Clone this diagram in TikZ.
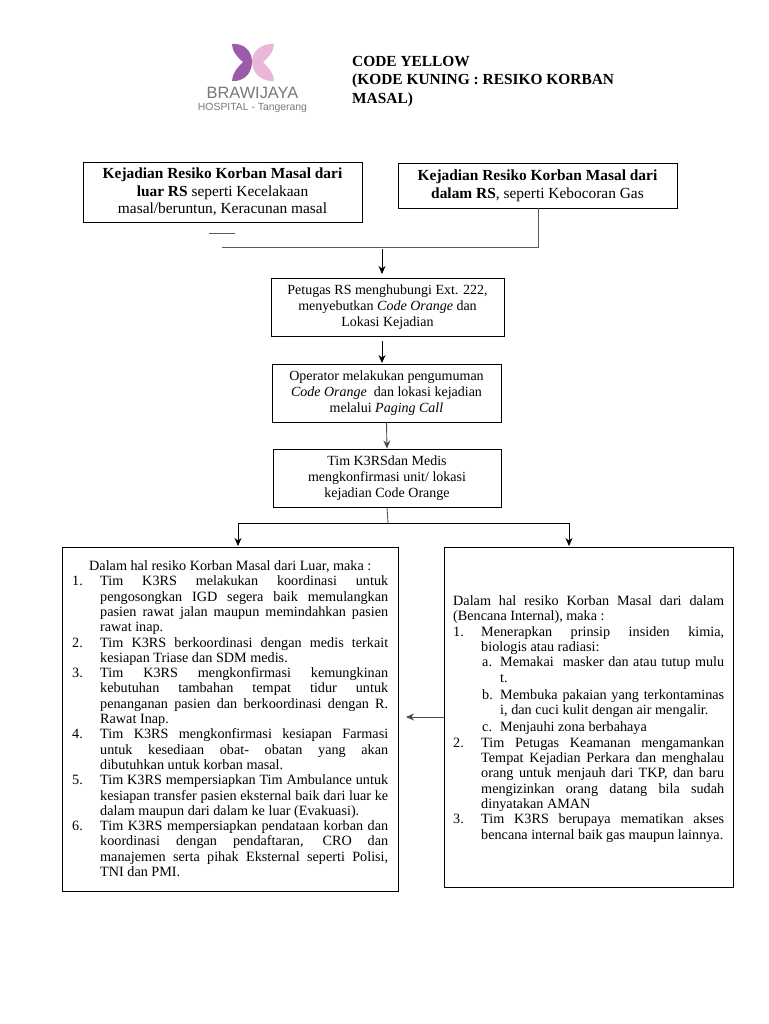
\documentclass[tikz,border=0pt]{standalone}
\usepackage{fontspec}
\setmainfont{Liberation Serif}
\setsansfont{Liberation Sans}
\usetikzlibrary{
    arrows.meta,
    positioning
}
\definecolor{logopurple}{HTML}{9B5BA8}
\definecolor{logopink}{HTML}{EBB7D6}
\definecolor{logogray}{HTML}{77787B}
\newcommand{\nohyphens}{\hyphenpenalty=10000 \exhyphenpenalty=10000 \relax}
\newcommand{\numitem}[3][28pt]{%
    \par\noindent\hangindent=#1\hangafter=1%
    \makebox[#1][l]{#2}#3\par%
}
\newcommand{\subpoint}[2]{%
    \par\noindent\leftskip=29pt\hangindent=18pt\hangafter=1%
    \makebox[18pt][l]{#1}#2\par\leftskip=0pt%
}

\begin{document}
\begin{tikzpicture}[
    x=1pt,
    y=-1pt,
    flowbox/.style={
        rectangle,
        draw,
        line width=0.9pt,
        align=center,
        inner sep=0pt,
        font=\fontsize{14}{16}\selectfont
    },
    listbox/.style={
        rectangle,
        draw,
        line width=0.9pt,
        inner sep=0pt,
        anchor=north west
    },
    listtext/.style={
        align=justify,
        inner sep=0pt,
        anchor=north west,
        font=\fontsize{14.2}{15.3}\selectfont
    },
    arrow/.style={
        -{Stealth[length=8pt,width=7pt]},
        line width=0.9pt
    },
    link/.style={
        line width=0.9pt,
        draw=black!65
    }
]
\useasboundingbox (0,0) rectangle (768,1024);

% logo

\fill[logopurple] (232,44) .. controls (243,43) and (252,50) .. (252,62)
    .. controls (252,74) and (243,82) .. (232,81)
    .. controls (232,74) and (237,68) .. (243,62)
    .. controls (237,57) and (232,51) .. (232,44) -- cycle;
\fill[logopink] (274,44) .. controls (263,43) and (252,50) .. (252,62)
    .. controls (252,74) and (263,82) .. (274,81)
    .. controls (274,74) and (269,68) .. (263,62)
    .. controls (269,57) and (274,51) .. (274,44) -- cycle;
\node[font=\sffamily\fontsize{16.4}{17}\selectfont,text=logogray,inner sep=0pt] (brand) at (252.5,92.5) {BRAWIJAYA};
\node[font=\sffamily\fontsize{10.4}{12}\selectfont,text=logogray,inner sep=0pt,below=5pt of brand] (branch) {HOSPITAL - Tangerang};

% title

\node[
    align=left,
    inner sep=0pt,
    anchor=north west,
    font=\bfseries\fontsize{15.4}{18.4}\selectfont
] (title) at (352,56) {
    CODE YELLOW\\
    (KODE KUNING : RESIKO KORBAN\\
    MASAL)
};

% boxes

\node[flowbox,minimum width=279pt,minimum height=60pt,font=\fontsize{15.4}{17.5}\selectfont] (luar) at (222.5,192) {
    \textbf{Kejadian Resiko Korban Masal dari}\\
    \textbf{luar RS} seperti Kecelakaan\\
    masal/beruntun, Keracunan masal
};

\node[flowbox,minimum width=279pt,minimum height=45pt,font=\fontsize{15.4}{18}\selectfont] (dalam) at (537.5,185.5) {
    \textbf{Kejadian Resiko Korban Masal dari}\\
    \textbf{dalam RS}, seperti Kebocoran Gas
};

\node[flowbox,minimum width=233pt,minimum height=58pt] (petugas) at (387.5,307) {
    Petugas RS menghubungi Ext. 222,\\
    menyebutkan \textit{Code Orange} dan\\
    Lokasi Kejadian
};

\node[flowbox,minimum width=229pt,minimum height=58pt] (operator) at (386.5,393) {
    Operator melakukan pengumuman\\
    \textit{Code Orange}\ \ dan lokasi kejadian\\
    melalui \textit{Paging Call}
};

\node[flowbox,minimum width=228pt,minimum height=58pt] (tim) at (387,478) {
    Tim K3RSdan Medis\\
    mengkonfirmasi unit/ lokasi\\
    kejadian Code Orange
};

\node[listbox,minimum width=336pt,minimum height=344pt] (kiri) at (62,547) {};
\node[listbox,minimum width=289pt,minimum height=340pt] (kanan) at (444,547) {};

% list texts

\node[listtext,text width=316pt] (kiritext) at (72,555) {%
    \nohyphens
    \par\noindent\hspace*{17pt}Dalam hal resiko Korban Masal dari Luar, maka :\par
    \numitem{1.}{Tim K3RS melakukan koordinasi untuk\linebreak pengosongkan IGD segera baik memulangkan\linebreak pasien rawat jalan maupun memindahkan pasien\linebreak rawat inap.}
    \numitem{2.}{Tim K3RS berkoordinasi dengan medis terkait\linebreak kesiapan Triase dan SDM medis.}
    \numitem{3.}{Tim K3RS mengkonfirmasi kemungkinan\linebreak kebutuhan tambahan tempat tidur untuk\linebreak penanganan pasien dan berkoordinasi dengan R.\linebreak Rawat Inap.}
    \numitem{4.}{Tim K3RS mengkonfirmasi kesiapan Farmasi\linebreak untuk kesediaan obat- obatan yang akan\linebreak dibutuhkan untuk korban masal.}
    \numitem{5.}{Tim K3RS mempersiapkan Tim Ambulance untuk\linebreak kesiapan transfer pasien eksternal baik dari luar ke\linebreak dalam maupun dari dalam ke luar (Evakuasi).}
    \numitem{6.}{Tim K3RS mempersiapkan pendataan korban dan\linebreak koordinasi dengan pendaftaran, CRO dan\linebreak manajemen serta pihak Eksternal seperti Polisi,\linebreak TNI dan PMI.}
};

\node[listtext,text width=271pt] (kanantext) at (453,590) {%
    \nohyphens
    \par\noindent Dalam hal resiko Korban Masal dari dalam\linebreak (Bencana Internal), maka :\par
    \numitem{1.}{Menerapkan prinsip insiden kimia,\linebreak biologis atau radiasi:}
    \subpoint{a.}{Memakai\ \ masker dan atau tutup mulu\linebreak t.}
    \vskip 2pt
    \subpoint{b.}{Membuka pakaian yang terkontaminas\linebreak i, dan cuci kulit dengan air mengalir.}
    \vskip 2pt
    \subpoint{c.}{Menjauhi zona berbahaya}
    \numitem{2.}{Tim Petugas Keamanan mengamankan\linebreak Tempat Kejadian Perkara dan menghalau\linebreak orang untuk menjauh dari TKP, dan baru\linebreak mengizinkan orang datang bila sudah\linebreak dinyatakan AMAN}
    \numitem{3.}{Tim K3RS berupaya mematikan akses\linebreak bencana internal baik gas maupun lainnya.}
};

% connector coordinates

\coordinate (stubleft) at (209,233);
\coordinate (stubright) at (235,233);
\coordinate (busleft) at (222,247);
\coordinate (busright) at (538,247);
\coordinate (mergetop) at (382,249);
\coordinate (petugastop) at (382,274);
\coordinate (opertop) at (382,341);
\coordinate (operhead) at (382,363);
\coordinate (splitjoint) at (388,523);
\coordinate (splitleft) at (238,523);
\coordinate (splitright) at (569,523);
\coordinate (kirihead) at (238,546);
\coordinate (kananhead) at (569,546);
\coordinate (backtail) at (444,717);
\coordinate (backhead) at (406,717);

% connectors

\draw[link] (stubleft) -- (stubright);
\draw[link] (dalam.south -| busright) -- (busright) -- (busleft);
\draw[arrow] (mergetop) -- (petugastop);
\draw[arrow] (opertop) -- (operhead);
\draw[arrow,draw=black!70] (operator.south) -- (tim.north);
\draw[link] (tim.south) -- (splitjoint);
\draw[arrow] (splitjoint) -- (splitleft) -- (kirihead);
\draw[arrow] (splitjoint) -- (splitright) -- (kananhead);
\draw[arrow,draw=black!70] (backtail) -- (backhead);

\end{tikzpicture}
\end{document}
